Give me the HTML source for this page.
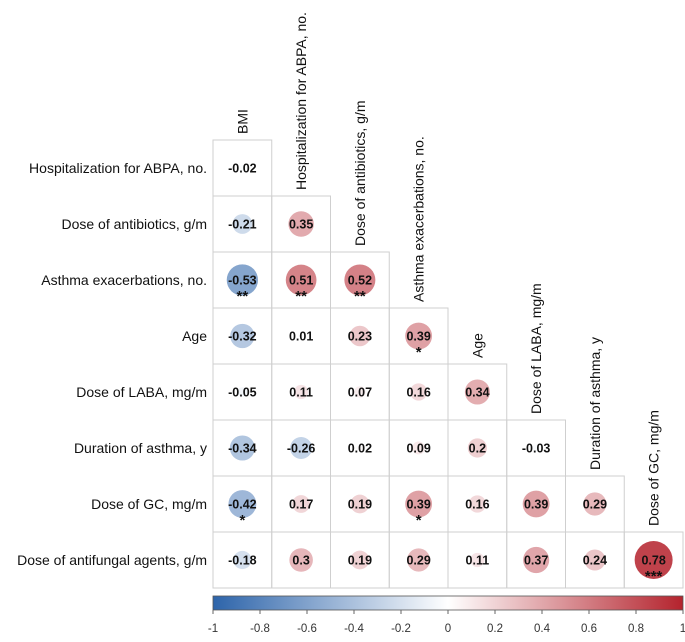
<!DOCTYPE html>
<html><head><meta charset="utf-8"><style>
html,body{margin:0;padding:0;background:#fff;}
svg{display:block;font-family:"Liberation Sans",Arial,sans-serif;}
</style></head><body>
<svg id="chart" width="685" height="642"></svg>
<script>
const rowLabels=["Hospitalization for ABPA, no.","Dose of antibiotics, g/m","Asthma exacerbations, no.","Age","Dose of LABA, mg/m","Duration of asthma, y","Dose of GC, mg/m","Dose of antifungal agents, g/m"];
const colLabels=["BMI","Hospitalization for ABPA, no.","Dose of antibiotics, g/m","Asthma exacerbations, no.","Age","Dose of LABA, mg/m","Duration of asthma, y","Dose of GC, mg/m"];
const values=[
[-0.02],
[-0.21,0.35],
[-0.53,0.51,0.52],
[-0.32,0.01,0.23,0.39],
[-0.05,0.11,0.07,0.16,0.34],
[-0.34,-0.26,0.02,0.09,0.2,-0.03],
[-0.42,0.17,0.19,0.39,0.16,0.39,0.29],
[-0.18,0.3,0.19,0.29,0.11,0.37,0.24,0.78]];
const stars=[
[""],["",""],["**","**","**"],["","","","*"],["","","","",""],["","","","","",""],
["*","","","*","","",""],["","","","","","","","***"]];
const tickLabels=["-1","-0.8","-0.6","-0.4","-0.2","0","0.2","0.4","0.6","0.8","1"];
const tickValues=[-1,-0.8,-0.6,-0.4,-0.2,0,0.2,0.4,0.6,0.8,1];

const NS="http://www.w3.org/2000/svg";
const svg=document.getElementById('chart');
const X0=213,Y0=140,CW=58.75,RH=56;
const cx=j=>X0+CW*j, ry=i=>Y0+RH*i;
const CB0=213,CB1=683;
const cbx=v=>CB0+(v+1)/2*(CB1-CB0);
function el(t,a,p){const e=document.createElementNS(NS,t);for(const k in a)e.setAttribute(k,a[k]);(p||svg).appendChild(e);return e;}
function mix(c,t){return `rgb(${Math.round(255+(c[0]-255)*t)},${Math.round(255+(c[1]-255)*t)},${Math.round(255+(c[2]-255)*t)})`;}
const RED=[180,35,45],BLUE=[45,100,170];
function color(v){const t=Math.min(1,Math.abs(v)*1.1);return v>=0?mix(RED,t):mix(BLUE,t);}
function cbcolor(v){return v>=0?mix(RED,v):mix(BLUE,-v);}

rowLabels.forEach((l,i)=>{
  const t=el('text',{x:207,y:ry(i)+RH/2+5,'text-anchor':'end','font-size':14,fill:'#111'});
  t.textContent=l;
  
  
});
colLabels.forEach((l,j)=>{
  const x=cx(j)+CW/2+5,y=ry(j)-6;
  const t=el('text',{x:x,y:y,transform:`rotate(-90 ${x} ${y})`,'font-size':14,fill:'#111'});
  t.textContent=l;
  
  
});
values.forEach((row,i)=>{row.forEach((v,j)=>{
  const g=el('g',{});
  
  
  el('rect',{x:cx(j),y:ry(i),width:CW,height:RH,fill:'none',stroke:'#cfcfcf','stroke-width':1},g);
  const mx=cx(j)+CW/2,my=ry(i)+RH/2;
  const c=el('circle',{cx:mx,cy:my,r:21.5*Math.sqrt(Math.abs(v)),fill:color(v)},g);
  
  
  const t=el('text',{x:mx,y:my+4.5,'text-anchor':'middle','font-size':12.5,'font-weight':'bold',fill:'#111'},g);
  t.textContent=String(v);
  const s=(stars[i]||[])[j];
  if(s){const st=el('text',{x:mx,y:my+21,'text-anchor':'middle','font-size':15,'font-weight':'bold',fill:'#111'},g);st.textContent=s;}
});});
const defs=el('defs',{});
const lg=el('linearGradient',{id:'cbg',x1:0,x2:1,y1:0,y2:0},defs);
el('stop',{offset:'0','stop-color':cbcolor(-1)},lg);
el('stop',{offset:'0.5','stop-color':'#fff'},lg);
el('stop',{offset:'1','stop-color':cbcolor(1)},lg);
const cb=el('rect',{x:CB0,y:596,width:CB1-CB0,height:14,fill:'url(#cbg)',stroke:'#555','stroke-width':0.8});


tickValues.forEach((v,k)=>{
  el('line',{x1:cbx(v),x2:cbx(v),y1:610,y2:614,stroke:'#666'});
  const t=el('text',{x:cbx(v),y:632,'text-anchor':'middle','font-size':11.5,fill:'#333'});
  t.textContent=tickLabels[k];
  
  
});
</script>
</body></html>
